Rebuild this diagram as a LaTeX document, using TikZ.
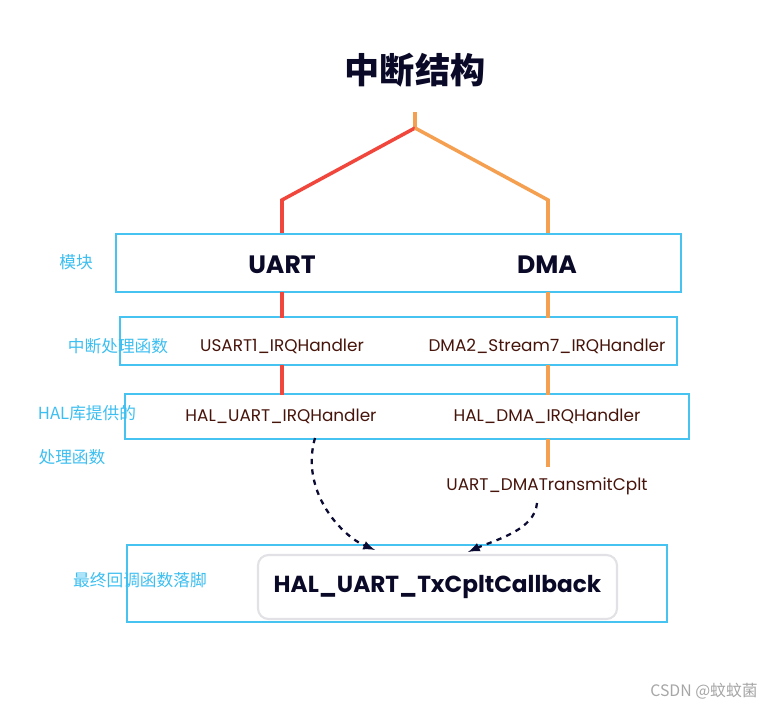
\documentclass[tikz,border=0pt]{standalone}
\usepackage{fontspec}
\setmainfont{Poppins}
\newfontfamily\cjk{Noto Sans CJK SC}
\begin{document}
\begin{tikzpicture}[x=0.02cm,y=-0.02cm,
 box/.style={draw={rgb,255:red,70;green,195;blue,240}, line width=1.2pt},
 red/.style={draw={rgb,255:red,240;green,70;blue,60}, line width=2pt},
 org/.style={draw={rgb,255:red,245;green,160;blue,80}, line width=2pt},
 fn/.style={font=\fontsize{9.6}{11}\selectfont, text={rgb,255:red,70;green,20;blue,10}, inner sep=0},
 mod/.style={font=\fontsize{14.3}{16}\selectfont\bfseries, text={rgb,255:red,10;green,10;blue,40}},
 lab/.style={font=\cjk\fontsize{9.5}{11}\selectfont, text={rgb,255:red,60;green,190;blue,240}},
 dsh/.style={dashed, line width=1.3pt, draw={rgb,255:red,10;green,10;blue,50}, -latex}]
\useasboundingbox (0,0) rectangle (768,709);
\node[font=\cjk\fontsize{20}{24}\selectfont\bfseries, text={rgb,255:red,10;green,10;blue,40}] (title) at (415,70) {中断结构};
\coordinate (top) at (415,112);
\coordinate (fork) at (415,128);
\draw[org] (top) -- (fork);
\draw[red] (fork) -- (282,200) -- (282,235);
\draw[org] (fork) -- (548,200) -- (548,235);
\draw[box] (116,234) rectangle (681,292);
\draw[box] (120,317) rectangle (677,365);
\draw[box] (125,394) rectangle (689,439);
\draw[box] (127,545) rectangle (667,622);
\draw[red] (282,292) -- (282,318);
\draw[org] (548,292) -- (548,318);
\draw[red] (282,365) -- (282,395);
\draw[org] (548,365) -- (548,395);
\draw[org] (548,439) -- (548,467);
\node[mod] (uart) at (282,265) {UART};
\node[mod] (dma) at (547,265) {DMA};
\node[fn] (u1) at (282,346) {USART1\_IRQHandler};
\node[fn] (d1) at (547,346) {DMA2\_Stream7\_IRQHandler};
\node[fn] (u2) at (281,416) {HAL\_UART\_IRQHandler};
\node[fn] (d2) at (547,416) {HAL\_DMA\_IRQHandler};
\node[fn] (d3) at (547,486) {UART\_DMATransmitCplt};
\node[draw={rgb,255:red,225;green,225;blue,230}, line width=1.2pt, rounded corners=6pt, minimum width=359*0.02cm, minimum height=64*0.02cm, font=\fontsize{13.2}{15}\selectfont\bfseries, text={rgb,255:red,10;green,10;blue,40}] (cb) at (437.5,587) {HAL\_UART\_TxCpltCallback};
\coordinate (a1) at (315,438);
\coordinate (a2) at (537,503);
\draw[dsh] (a1) .. controls (300,490) and (340,535) .. (375,550);
\draw[dsh] (a2) .. controls (535,530) and (495,540) .. (468,552);
\node[lab] (l1) at (76,262) {模块};
\node[lab] (l2) at (118,346) {中断处理函数};
\node[lab] (l3) at (87,413) {HAL库提供的};
\node[lab] (l4) at (72,457) {处理函数};
\node[lab] (l5) at (140,580) {最终回调函数落脚};
\node[font=\cjk\fontsize{9}{11}\selectfont, text=gray!70] (wm) at (704,691) {CSDN @蚊蚊菌};
\end{tikzpicture}
\end{document}
